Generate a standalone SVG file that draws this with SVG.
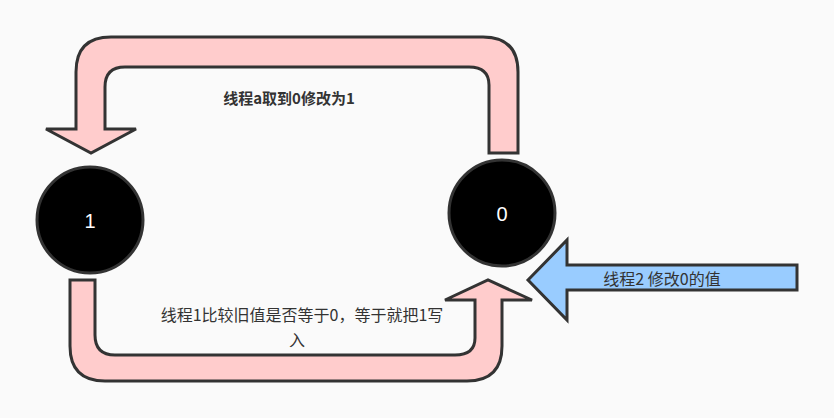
<svg xmlns="http://www.w3.org/2000/svg" width="834" height="418" viewBox="0 0 834 418">
<style>
.pink{fill:#ffcccc;stroke:#333;stroke-width:3;stroke-linejoin:miter}
.blue{fill:#99ccff;stroke:#333;stroke-width:3}
.node{fill:#000;stroke:#333;stroke-width:3}
.t{font-family:"Noto Sans CJK SC","Liberation Sans",sans-serif;fill:#333}
</style>
<rect width="834" height="418" fill="#fafafa"/>
<g id="connectors">
<path class="pink" d="M489,153 L489,85 Q489,67 469,67 L125,67 Q105,67 105,87 L105,129 L136,129 L91,153 L46,129 L76,129 L76,72 Q76,37 111,37 L483,37 Q518,37 518,72 L518,153 Z"/>
<path class="pink" d="M70,280 L70,346 Q70,381 105,381 L467,381 Q502,381 502,346 L502,300 L532,300 L488,280 L445,300 L475,300 L475,338 Q475,355 455,355 L115,355 Q95,355 95,335 L95,280 Z"/>
<path class="blue" d="M528,280 L567,240 L567,265 L797,265 L797,290 L567,290 L567,320 Z"/>
<text class="t" x="289" y="104" font-size="15" font-weight="bold" text-anchor="middle">线程a取到0修改为1</text>
<text class="t" x="302" y="321" font-size="16" text-anchor="middle">线程1比较旧值是否等于0，等于就把1写</text>
<text class="t" x="297" y="346" font-size="16" text-anchor="middle">入</text>
<text class="t" x="662" y="285" font-size="16" text-anchor="middle">线程2  修改0的值</text>
</g>
<g id="node1"><circle class="node" cx="90" cy="220" r="53"/><text x="90" y="228" font-size="20" fill="#fff" text-anchor="middle" font-family="Liberation Sans,sans-serif">1</text></g>
<g id="node0"><circle class="node" cx="502" cy="213" r="53"/><text x="502" y="221" font-size="20" fill="#fff" text-anchor="middle" font-family="Liberation Sans,sans-serif">0</text></g>
</svg>
